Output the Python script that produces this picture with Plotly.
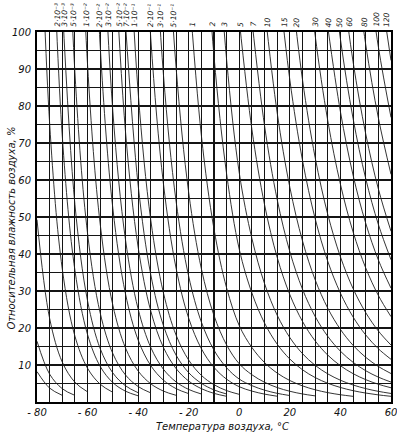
import numpy as np
import plotly.graph_objects as go

# Temperature grid (deg C) and saturated water-vapour density (g/m^3) at those temperatures
temperature_c = [-80, -75, -70, -65, -60, -55, -50, -45, -40, -35, -30, -25, -20, -15,
                 -10, -5, 0, 5, 10, 15, 20, 25, 30, 35, 40, 45, 50, 55, 60]
saturation_g_m3 = [6.09e-4, 1.328e-3, 2.783e-3, 5.621e-3, 1.098e-2, 2.080e-2, 3.825e-2,
                   6.845e-2, 0.1194, 0.2035, 0.3389, 0.5527, 0.8838, 1.388,
                   2.140, 3.246, 4.848, 6.791, 9.382, 12.80, 17.24, 22.97, 30.26,
                   39.47, 50.98, 65.25, 82.78, 104.2, 130.0]

# Absolute humidity isolines (g/m^3) and their labels along the top edge
humidity_values = [5e-5, 1e-4, 3e-4, 1e-3,
                   2e-3, 3e-3, 5e-3, 1e-2, 2e-2, 3e-2, 5e-2, 7e-2, 1e-1, 2e-1, 3e-1, 5e-1,
                   1, 2, 3, 5, 7, 10, 15, 20, 30, 40, 50, 60, 80, 100, 120]
humidity_labels = ["", "", "", "",
                   "2·10⁻³", "3·10⁻³", "5·10⁻³", "1·10⁻²", "2·10⁻²", "3·10⁻²", "5·10⁻²",
                   "7·10⁻²", "1·10⁻¹", "2·10⁻¹", "3·10⁻¹", "5·10⁻¹",
                   "1", "2", "3", "5", "7", "10", "15", "20", "30", "40", "50", "60",
                   "80", "100", "120"]

x_tick_values = [-80, -60, -40, -20, 0, 20, 40, 60]
x_tick_labels = ["- 80", "- 60", "- 40", "- 20", "0", "20", "40", "60"]
y_tick_values = [10, 20, 30, 40, 50, 60, 70, 80, 90, 100]
y_tick_labels = ["10", "20", "30", "40", "50", "60", "70", "80", "90", "100"]

x_title = "Температура воздуха, °С"
y_title = "Относительная влажность воздуха, %"

T = np.array(temperature_c, dtype=float)
S = np.array(saturation_g_m3, dtype=float)
logS = np.log(S)

FONT = "DejaVu Sans"
fig = go.Figure()

annotations = []
for a, lab in zip(humidity_values, humidity_labels):
    rh = 100.0 * a / S
    idx = np.where((rh <= 100.0) & (rh >= 1.5))[0]
    if len(idx) == 0:
        continue
    i0, i1 = idx[0], idx[-1]
    if i0 > 0:
        i0 -= 1
    fig.add_trace(go.Scatter(
        x=T[i0:i1 + 1], y=rh[i0:i1 + 1], mode="lines",
        line=dict(color="#1e1e1e", width=0.9, shape="spline", smoothing=1.0),
        hoverinfo="skip", showlegend=False))
    if lab:
        td = float(np.interp(np.log(a), logS, T))
        annotations.append(dict(
            x=td, y=1, xref="x", yref="paper", text=lab, showarrow=False,
            textangle=-90, xanchor="center", yanchor="bottom", yshift=3,
            font=dict(family=FONT, size=7.5, color="#111", style="italic")))

annotations.append(dict(
    x=0.523, y=-0.066, xref="paper", yref="paper", text=x_title, showarrow=False,
    xanchor="center", yanchor="middle",
    font=dict(family=FONT, size=10, color="#111", style="italic")))
annotations.append(dict(
    x=-0.072, y=0.47, xref="paper", yref="paper", text=y_title, showarrow=False,
    textangle=-90, xanchor="center", yanchor="middle",
    font=dict(family=FONT, size=10, color="#111", style="italic")))

grid_col = "#141414"
fig.update_layout(
    width=397, height=436,
    margin=dict(l=37, r=6, t=32, b=34, autoexpand=False),
    paper_bgcolor="white", plot_bgcolor="white",
    showlegend=False,
    annotations=annotations,
    xaxis=dict(
        range=[-80, 60], tickvals=x_tick_values, ticktext=x_tick_labels,
        showgrid=True, gridcolor=grid_col, gridwidth=1.1,
        minor=dict(tick0=-80, dtick=5, showgrid=True, gridcolor=grid_col, gridwidth=1.1),
        showline=True, mirror=True, linecolor="#000", linewidth=2,
        zeroline=False, ticks="", ticklabelstandoff=0, ticklabeloverflow="allow",
        tickfont=dict(family=FONT, size=10, color="#111", style="italic")),
    yaxis=dict(
        range=[0, 100], tickvals=y_tick_values, ticktext=y_tick_labels,
        showgrid=True, gridcolor=grid_col, gridwidth=1.4,
        minor=dict(tick0=0, dtick=5, showgrid=True, gridcolor=grid_col, gridwidth=1.0),
        showline=True, mirror=True, linecolor="#000", linewidth=2,
        zeroline=False, ticks="", ticklabelstandoff=2, ticklabeloverflow="allow",
        tickfont=dict(family=FONT, size=10, color="#111", style="italic")),
)

# Remove the browser's default page margin so the figure fills the window exactly.
fig.write_html("out.html",
               config={"displayModeBar": False, "staticPlot": True},
               post_script="document.body.style.margin='0';document.body.style.overflow='hidden';")
